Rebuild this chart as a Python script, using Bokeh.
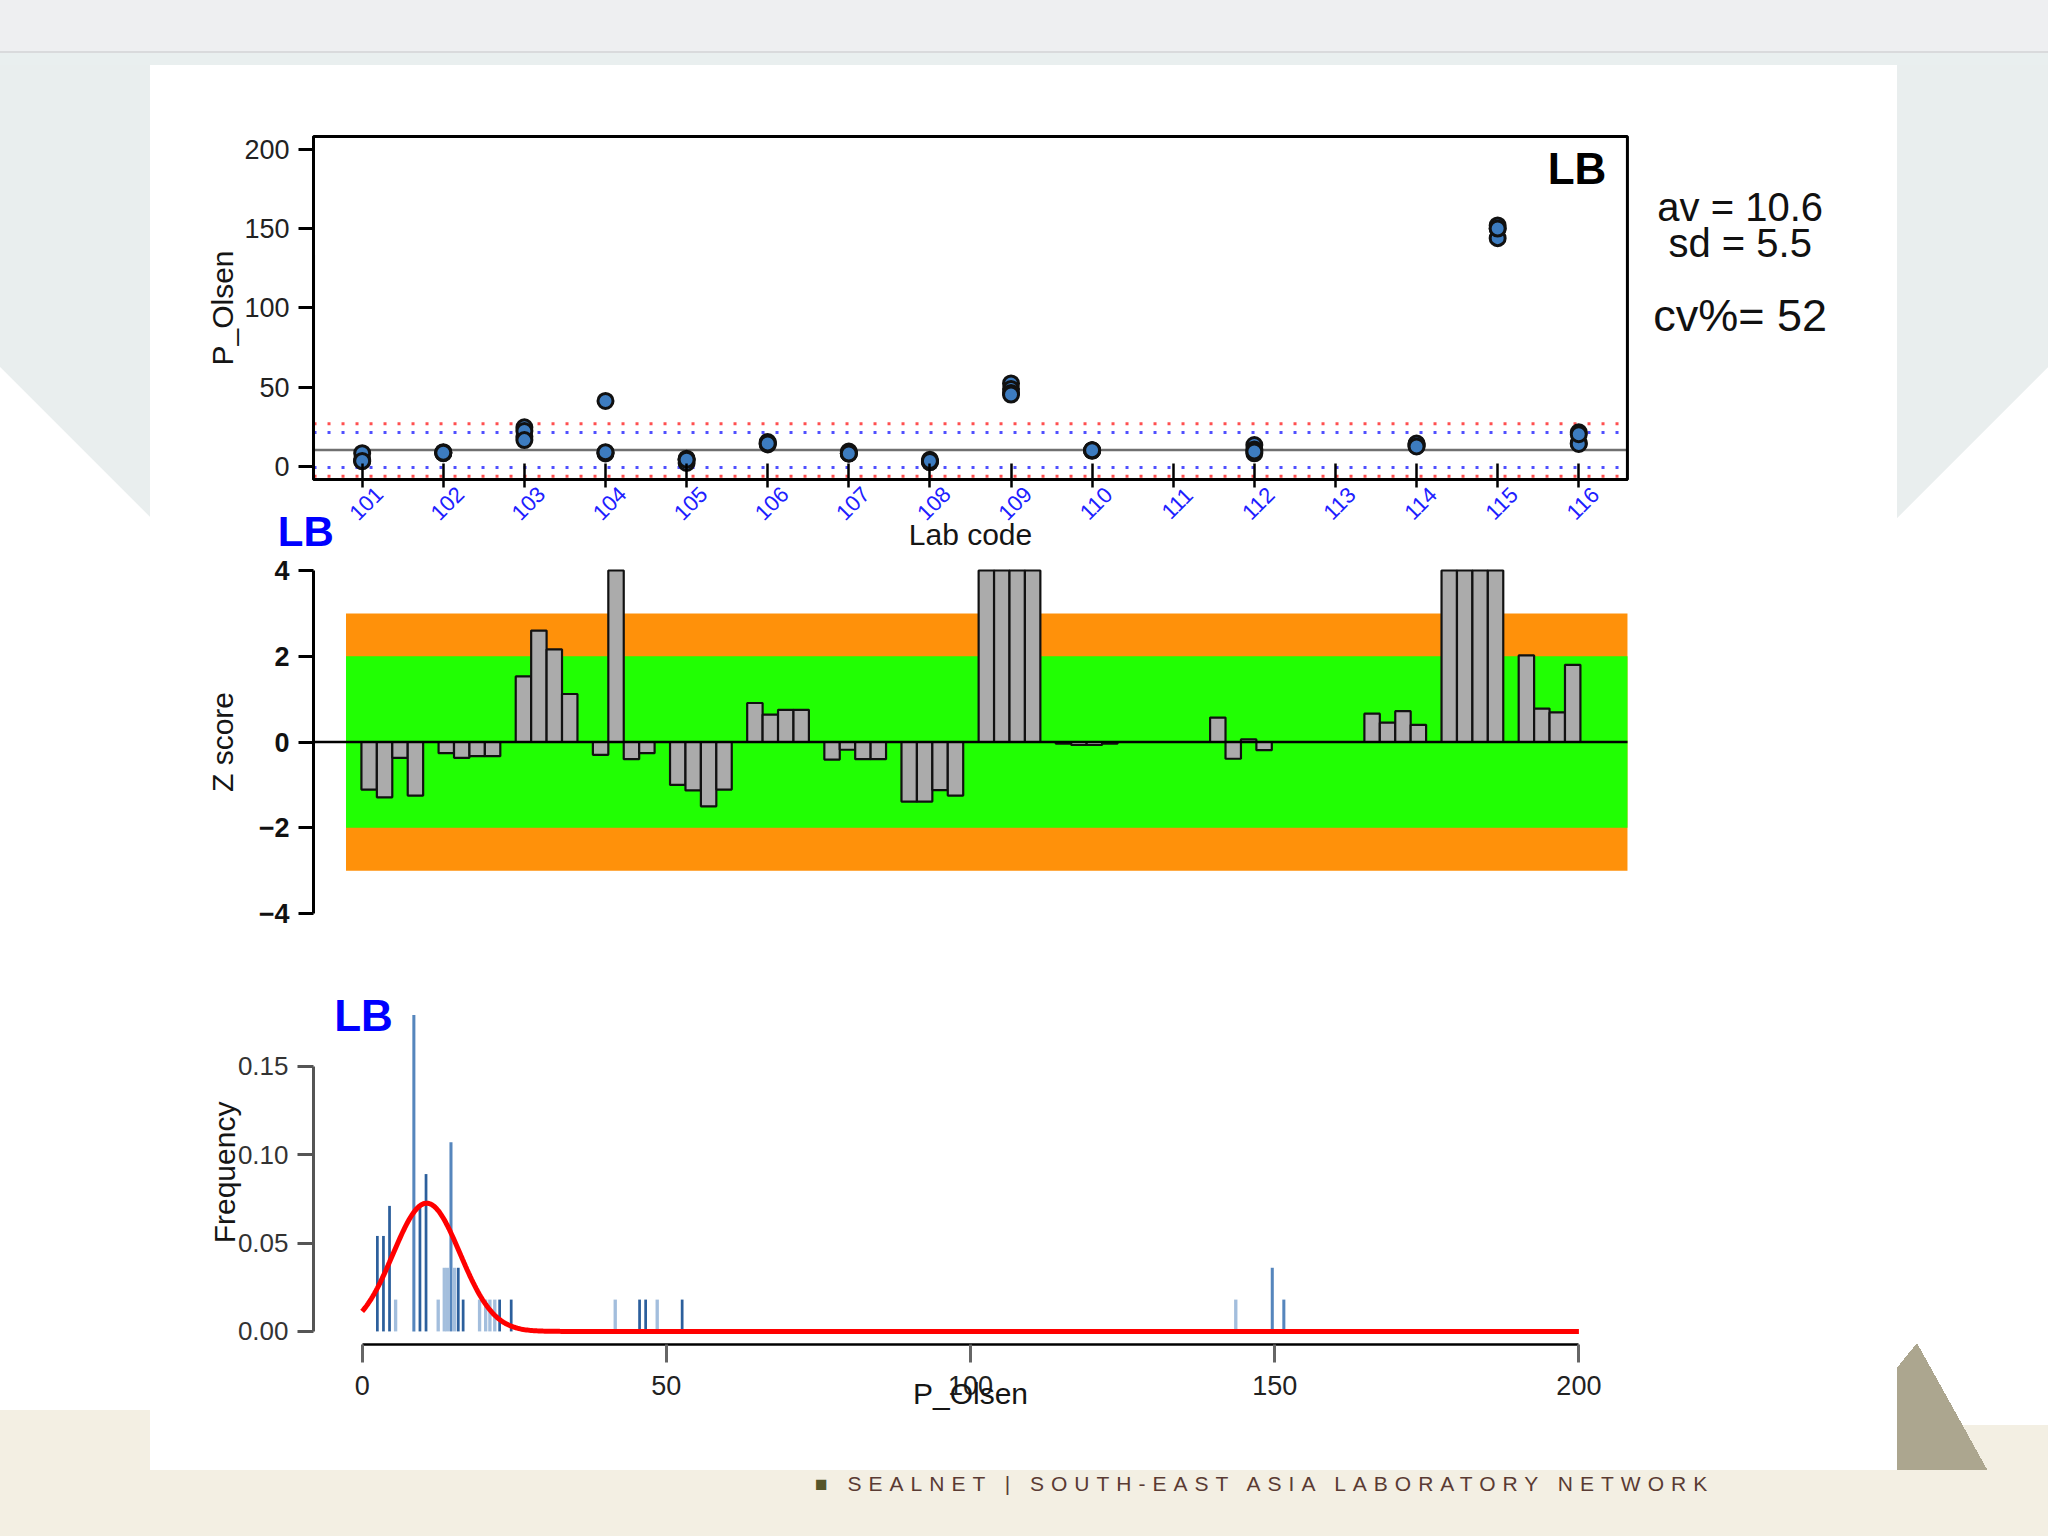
import math
import numpy as np
from bokeh.plotting import figure
from bokeh.models import Range1d, FixedTicker, Label, Div, NumeralTickFormatter
from bokeh.layouts import column, row
from bokeh.embed import file_html
from bokeh.resources import INLINE
from bokeh.core.properties import value

# ---------------- data ----------------
lab_codes = [101, 102, 103, 104, 105, 106, 107, 108, 109, 110, 111, 112, 113, 114, 115, 116]

p_olsen = [
    [4.5, 3.5, 8.6, 3.7],
    [9.2, 8.6, 8.8, 8.8],
    [19.0, 24.9, 22.5, 16.8],
    [8.9, 41.5, 8.4, 9.2],
    [5.1, 4.4, 2.4, 4.5],
    [15.6, 14.1, 14.7, 14.7],
    [8.3, 9.6, 8.4, 8.4],
    [3.0, 3.0, 4.4, 3.7],
    [52.5, 49.0, 46.5, 45.5],
    [10.4, 10.2, 10.2, 10.4],
    [],
    [13.7, 8.5, 10.9, 9.6],
    [],
    [14.2, 13.1, 14.6, 12.8],
    [150.0, 152.0, 144.0, 150.0],
    [21.7, 14.9, 14.4, 20.5],
]

z_scores = [
    [-1.11, -1.29, -0.37, -1.25],
    [-0.26, -0.37, -0.33, -0.33],
    [1.53, 2.60, 2.16, 1.12],
    [-0.30, 5.6, -0.40, -0.26],
    [-1.00, -1.13, -1.50, -1.11],
    [0.91, 0.64, 0.75, 0.75],
    [-0.41, -0.18, -0.40, -0.40],
    [-1.39, -1.39, -1.12, -1.25],
    [7.6, 7.0, 6.5, 6.3],
    [-0.04, -0.07, -0.07, -0.04],
    [],
    [0.57, -0.39, 0.06, -0.19],
    [],
    [0.66, 0.45, 0.72, 0.40],
    [25.3, 25.7, 24.3, 25.3],
    [2.02, 0.78, 0.69, 1.80],
]

av = 10.6
sd = 5.5
cv_pct = 52
z_warn = 2
z_action = 3

hist_dark_x = [2.5, 3.5, 4.5, 9.5, 10.5, 15.8, 16.6, 22.6, 24.5, 45.6, 46.6, 52.6]
hist_dark_freq = [0.054, 0.054, 0.071, 0.071, 0.089, 0.036, 0.018, 0.018, 0.018, 0.018, 0.018, 0.018]
hist_mid_x = [8.5, 14.6, 149.6, 151.5]
hist_mid_freq = [0.179, 0.107, 0.036, 0.018]
hist_light_x = [5.5, 12.5, 13.5, 14.0, 15.2, 19.3, 20.3, 21.0, 21.8, 41.6, 48.5, 143.6]
hist_light_freq = [0.018, 0.018, 0.036, 0.036, 0.036, 0.018, 0.018, 0.018, 0.018, 0.018, 0.018, 0.018]

y_lim_top = [0, 200]
y_ticks_top = [0, 50, 100, 150, 200]
z_lim = [-4, 4]
z_ticks = [-4, -2, 0, 2, 4]
hist_x_lim = [0, 200]
hist_x_ticks = [0, 50, 100, 150, 200]
hist_y_ticks = [0.0, 0.05, 0.10, 0.15]

FONT = "Liberation Sans"
W = 1747


def make_fig(height, x_range, y_range, **kw):
    # the frame covers the whole canvas; axes are pinned with fixed_location
    p = figure(width=W, height=height, x_range=x_range, y_range=y_range,
               output_backend="svg", toolbar_location=None,
               min_border_left=0, min_border_right=0, min_border_top=0, min_border_bottom=0, **kw)
    p.xgrid.visible = False
    p.ygrid.visible = False
    p.background_fill_color = "white"
    p.border_fill_color = "white"
    p.outline_line_color = None
    p.margin = (0, 0, 0, 0)
    return p


def style_axis(ax, ticks, tick_out, label, label_standoff, label_size="27px", bold=False,
               axis_color="black", tick_color="black", tick_in=0, line_width=3):
    ax.ticker = FixedTicker(ticks=ticks)
    ax.major_tick_in = tick_in
    ax.major_tick_out = tick_out
    ax.major_tick_line_width = 3
    ax.major_tick_line_color = tick_color
    ax.minor_tick_line_color = None
    ax.axis_line_width = line_width
    ax.axis_line_color = axis_color
    ax.major_label_text_font = FONT
    ax.major_label_text_font_size = label_size
    ax.major_label_text_font_style = "bold" if bold else "normal"
    ax.major_label_text_color = "#222222"
    ax.axis_label = label
    ax.axis_label_text_font = FONT
    ax.axis_label_text_font_size = "30px"
    ax.axis_label_text_font_style = "normal"
    ax.axis_label_text_color = "#151515"
    ax.axis_label_standoff = label_standoff


def lab_text(p, x, y, text, size, color="#111111", bold=False, align="center", angle=0.0):
    p.add_layout(Label(x=x, y=y, text=text, text_align=align, text_baseline="middle", angle=angle,
                       text_font=FONT, text_font_size=size,
                       text_font_style="bold" if bold else "normal", text_color=color))


# ---------------- top: values per lab (R-style box with 4% padding) ----------------
pad_x = 0.04 * (lab_codes[-1] - lab_codes[0])
x_lo, x_hi = lab_codes[0] - pad_x, lab_codes[-1] + pad_x
pad_y = 0.04 * (y_lim_top[1] - y_lim_top[0])
y_lo, y_hi = y_lim_top[0] - pad_y, y_lim_top[1] + pad_y

p1 = make_fig(490, Range1d(98.39, 119.93), Range1d(-55.86, 252.71))

for lvl, col, dash, w in [(av + 3 * sd, "#ff5050", "3 11", 3), (av - 3 * sd, "#ff5050", "3 11", 3),
                          (av + 2 * sd, "#5050ff", "3 11", 3), (av - 2 * sd, "#5050ff", "3 11", 3),
                          (av, "#707070", "solid", 2.5)]:
    p1.segment(x0=[x_lo], x1=[x_hi], y0=[lvl], y1=[lvl], line_color=col, line_dash=dash, line_width=w)

p1.quad(left=[x_lo], right=[x_hi], bottom=[y_lo], top=[y_hi], fill_color=None,
        line_color="black", line_width=3)

px, py = [], []
for lab, vals in zip(lab_codes, p_olsen):
    for v in vals:
        px.append(lab)
        py.append(v)
p1.scatter(px, py, size=15, fill_color="#3d7cc0", line_color="#111111", line_width=3)

xa = p1.xaxis[0]
xa.fixed_location = y_lo
xa.bounds = (x_lo, x_hi)
style_axis(xa, lab_codes, 8, "Lab code", 30, tick_in=16)
xa.major_tick_line_width = 2.5
xa.major_label_overrides = {lab: "" for lab in lab_codes}

# rotated lab-code labels, centred under their ticks
p1.text(x=[lab + 0.05 for lab in lab_codes], y=[-23.1] * len(lab_codes), text=[str(l) for l in lab_codes],
        angle=math.pi / 4, text_align="center", text_baseline="middle",
        text_font=value(FONT), text_font_size="22px", text_color="#2020ff")

ya = p1.yaxis[0]
ya.fixed_location = x_lo
ya.bounds = (y_lo, y_hi)
style_axis(ya, y_ticks_top, 15, "P_Olsen", 2)
ya.major_label_standoff = 9

lab_text(p1, 116.34, 187.8, "LB", "44px", color="black", bold=True, align="right")
lab_text(p1, 117.99, 163.3, f"av = {av}", "40px")
lab_text(p1, 117.99, 141.2, f"sd = {sd}", "40px")
lab_text(p1, 117.99, 95.3, f"cv%= {cv_pct}", "45px")
lab_text(p1, 99.96, -40.74, "LB", "42px", color="#0000ff", bold=True, align="left")

# ---------------- middle: z scores ----------------
p2 = make_fig(405, Range1d(-13.67, 99.55), Range1d(-5.096, 4.35), x_axis_location=None)
z_axis_x = -3.11
band_left, band_right = -1.0, 82.05
p2.quad(left=band_left, right=band_right, bottom=-z_action, top=z_action, fill_color="#ff910a", line_color=None)
p2.quad(left=band_left, right=band_right, bottom=-z_warn, top=z_warn, fill_color="#21ff03", line_color=None)

bx, bt = [], []
for g, zs in enumerate(z_scores):
    for r, z in enumerate(zs):
        bx.append(g * 5 + r + 0.5)
        bt.append(min(z, z_lim[1]))  # bars are cut at the top of the plotting region
p2.vbar(x=bx, top=bt, bottom=0, width=1.0, fill_color="#ababab", line_color="#111111", line_width=2.2)
p2.segment(x0=[z_axis_x], x1=[band_right], y0=[0], y1=[0], line_color="black", line_width=2.5)

za = p2.yaxis[0]
za.fixed_location = z_axis_x
za.bounds = (z_lim[0], z_lim[1])
style_axis(za, z_ticks, 15, "Z score", 17, bold=True)
za.major_label_standoff = 9
za.major_label_text_color = "#111111"

# ---------------- bottom: histogram ----------------
p3 = make_fig(510, Range1d(-34.79, 252.37), Range1d(-0.07867, 0.2098))
h_x_lo = hist_x_lim[0] - 0.04 * (hist_x_lim[1] - hist_x_lim[0])
h_y_lo = -0.0074
p3.vbar(x=hist_light_x, top=hist_light_freq, bottom=0, width=0.55, fill_color="#a3bedd", line_color=None)
p3.vbar(x=hist_mid_x, top=hist_mid_freq, bottom=0, width=0.5, fill_color="#5686bd", line_color=None)
p3.vbar(x=hist_dark_x, top=hist_dark_freq, bottom=0, width=0.45, fill_color="#2c5f9c", line_color=None)

cx = np.linspace(hist_x_lim[0], hist_x_lim[1], 801)
cy = np.exp(-0.5 * ((cx - av) / sd) ** 2) / (sd * math.sqrt(2 * math.pi))
p3.line(cx, cy, line_color="#ff0000", line_width=5)

hx = p3.xaxis[0]
hx.fixed_location = h_y_lo
hx.bounds = (hist_x_lim[0], hist_x_lim[1])
style_axis(hx, hist_x_ticks, 18, "P_Olsen", -22, tick_color="#666666", line_width=2.5)
hx.major_label_standoff = 14

hy = p3.yaxis[0]
hy.fixed_location = h_x_lo
hy.bounds = (0, 0.15)
style_axis(hy, hist_y_ticks, 16, "", 0, label_size="26px",
           axis_color="#555555", tick_color="#555555")
hy.formatter = NumeralTickFormatter(format="0.00")
hy.major_label_standoff = 9
hy.major_label_text_color = "#333333"
# y title of the histogram sits over the tick labels, as in the original
lab_text(p3, -22.6, 0.0899, "Frequency", "30px", color="#151515", angle=math.pi / 2)

lab_text(p3, -4.6, 0.1787, "LB", "44px", color="#0000ff", bold=True, align="left")

# ---------------- page / slide background ----------------
top_band = Div(width=2048, height=65, margin=(0, 0, 0, 0), styles={
    "background": "linear-gradient(to bottom, #eeeff1 0px, #eeeff1 51px, #d9dadc 51px, #d9dadc 53px, #e9efef 53px, #e9efef 65px)"})
left_strip = Div(width=150, height=1405, margin=(0, 0, 0, 0), styles={
    "background": "linear-gradient(to bottom, rgba(0,0,0,0) 0px, rgba(0,0,0,0) 1345px, #f3efe3 1345px), "
                  "linear-gradient(225deg, #e9eeee 0px, #e9eeee 319px, #ffffff 320px)"})
right_strip = Div(width=151, height=1405, margin=(0, 0, 0, 0), styles={
    "background": "conic-gradient(from 151deg at 20px 1278px, #aca68f 0deg 68deg, rgba(0,0,0,0) 68deg 360deg), "
                  "linear-gradient(to bottom, rgba(0,0,0,0) 0px, rgba(0,0,0,0) 1360px, #f3efe3 1360px), "
                  "linear-gradient(135deg, #e9eeee 0px, #e9eeee 320px, #ffffff 321px)"})
footer = Div(width=2048, height=66, margin=(0, 0, 0, 0), styles={"background": "#f3efe3", "overflow": "hidden"},
             text='<div style="position:relative; top:2px; left:815px; font-family:\'Liberation Sans\'; '
                  'font-size:21px; line-height:24px; letter-spacing:7px; color:#5a3b33; white-space:nowrap;">'
                  '<span style="color:#55552a">&#9632;</span> SEALNET | SOUTH-EAST ASIA LABORATORY NETWORK</div>')

charts = column(p1, p2, p3, spacing=0, margin=(0, 0, 0, 0))
middle = row(left_strip, charts, right_strip, spacing=0, margin=(0, 0, 0, 0))
page = column(top_band, middle, footer, spacing=0, margin=(0, 0, 0, 0))

open("out.html", "w").write(file_html(page, INLINE))
